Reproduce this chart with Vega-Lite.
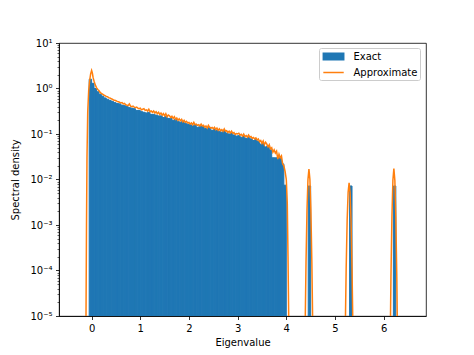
{
  "$schema": "https://vega.github.io/schema/vega-lite/v6.json",
  "autosize": {"type": "none"},
  "padding": {"left": 59, "top": 43, "right": 48, "bottom": 39},
  "width": 367,
  "height": 273,
  "background": "white",
  "config": {
    "view": {"stroke": "#000000", "strokeWidth": 0.8},
    "font": "DejaVu Sans",
    "axis": {
      "labelFont": "DejaVu Sans", "labelFontSize": 10, "labelColor": "#000000",
      "titleFont": "DejaVu Sans", "titleFontSize": 10, "titleFontWeight": "normal", "titleColor": "#000000",
      "domainColor": "#000000", "domainWidth": 0.8, "tickColor": "#000000", "tickWidth": 0.8,
      "tickSize": 3.5, "labelPadding": 3.5, "grid": false
    },
    "legend": {"labelFont": "DejaVu Sans", "labelFontSize": 10, "labelColor": "#000000"}
  },
  "datasets": {
    "exact": [
      {"lo": -0.05, "hi": 0.0, "density": 1.6},
      {"lo": 0.0, "hi": 0.05, "density": 1.3},
      {"lo": 0.05, "hi": 0.1, "density": 1.0},
      {"lo": 0.1, "hi": 0.15, "density": 0.85},
      {"lo": 0.15, "hi": 0.2, "density": 0.75},
      {"lo": 0.2, "hi": 0.25, "density": 0.68},
      {"lo": 0.25, "hi": 0.3, "density": 0.62},
      {"lo": 0.3, "hi": 0.35, "density": 0.58},
      {"lo": 0.35, "hi": 0.4, "density": 0.55},
      {"lo": 0.4, "hi": 0.45, "density": 0.52},
      {"lo": 0.45, "hi": 0.5, "density": 0.49},
      {"lo": 0.5, "hi": 0.55, "density": 0.47},
      {"lo": 0.55, "hi": 0.6, "density": 0.46},
      {"lo": 0.6, "hi": 0.65, "density": 0.43},
      {"lo": 0.65, "hi": 0.7, "density": 0.42},
      {"lo": 0.7, "hi": 0.75, "density": 0.4},
      {"lo": 0.75, "hi": 0.8, "density": 0.38},
      {"lo": 0.8, "hi": 0.85, "density": 0.37},
      {"lo": 0.85, "hi": 0.9, "density": 0.36},
      {"lo": 0.9, "hi": 0.95, "density": 0.33},
      {"lo": 0.95, "hi": 1.0, "density": 0.33},
      {"lo": 1.0, "hi": 1.05, "density": 0.31},
      {"lo": 1.05, "hi": 1.1, "density": 0.3},
      {"lo": 1.1, "hi": 1.15, "density": 0.29},
      {"lo": 1.15, "hi": 1.2, "density": 0.3},
      {"lo": 1.2, "hi": 1.25, "density": 0.27},
      {"lo": 1.25, "hi": 1.3, "density": 0.27},
      {"lo": 1.3, "hi": 1.35, "density": 0.26},
      {"lo": 1.35, "hi": 1.4, "density": 0.25},
      {"lo": 1.4, "hi": 1.45, "density": 0.25},
      {"lo": 1.45, "hi": 1.5, "density": 0.23},
      {"lo": 1.5, "hi": 1.55, "density": 0.24},
      {"lo": 1.55, "hi": 1.6, "density": 0.22},
      {"lo": 1.6, "hi": 1.65, "density": 0.22},
      {"lo": 1.65, "hi": 1.7, "density": 0.2},
      {"lo": 1.7, "hi": 1.75, "density": 0.21},
      {"lo": 1.75, "hi": 1.8, "density": 0.19},
      {"lo": 1.8, "hi": 1.85, "density": 0.18},
      {"lo": 1.85, "hi": 1.9, "density": 0.19},
      {"lo": 1.9, "hi": 1.95, "density": 0.17},
      {"lo": 1.95, "hi": 2.0, "density": 0.165},
      {"lo": 2.0, "hi": 2.05, "density": 0.16},
      {"lo": 2.05, "hi": 2.1, "density": 0.15},
      {"lo": 2.1, "hi": 2.15, "density": 0.16},
      {"lo": 2.15, "hi": 2.2, "density": 0.14},
      {"lo": 2.2, "hi": 2.25, "density": 0.145},
      {"lo": 2.25, "hi": 2.3, "density": 0.15},
      {"lo": 2.3, "hi": 2.35, "density": 0.135},
      {"lo": 2.35, "hi": 2.4, "density": 0.13},
      {"lo": 2.4, "hi": 2.45, "density": 0.14},
      {"lo": 2.45, "hi": 2.5, "density": 0.12},
      {"lo": 2.5, "hi": 2.55, "density": 0.125},
      {"lo": 2.55, "hi": 2.6, "density": 0.12},
      {"lo": 2.6, "hi": 2.65, "density": 0.115},
      {"lo": 2.65, "hi": 2.7, "density": 0.11},
      {"lo": 2.7, "hi": 2.75, "density": 0.12},
      {"lo": 2.75, "hi": 2.8, "density": 0.105},
      {"lo": 2.8, "hi": 2.85, "density": 0.1},
      {"lo": 2.85, "hi": 2.9, "density": 0.105},
      {"lo": 2.9, "hi": 2.95, "density": 0.095},
      {"lo": 2.95, "hi": 3.0, "density": 0.09},
      {"lo": 3.0, "hi": 3.05, "density": 0.092},
      {"lo": 3.05, "hi": 3.1, "density": 0.085},
      {"lo": 3.1, "hi": 3.15, "density": 0.088},
      {"lo": 3.15, "hi": 3.2, "density": 0.08},
      {"lo": 3.2, "hi": 3.25, "density": 0.085},
      {"lo": 3.25, "hi": 3.3, "density": 0.078},
      {"lo": 3.3, "hi": 3.35, "density": 0.072},
      {"lo": 3.35, "hi": 3.4, "density": 0.075},
      {"lo": 3.4, "hi": 3.45, "density": 0.068},
      {"lo": 3.45, "hi": 3.5, "density": 0.06},
      {"lo": 3.5, "hi": 3.55, "density": 0.062},
      {"lo": 3.55, "hi": 3.6, "density": 0.052},
      {"lo": 3.6, "hi": 3.65, "density": 0.055},
      {"lo": 3.65, "hi": 3.7, "density": 0.045},
      {"lo": 3.7, "hi": 3.75, "density": 0.03},
      {"lo": 3.75, "hi": 3.8, "density": 0.03},
      {"lo": 3.8, "hi": 3.85, "density": 0.03},
      {"lo": 3.85, "hi": 3.9, "density": 0.03},
      {"lo": 3.9, "hi": 3.95, "density": 0.022},
      {"lo": 3.95, "hi": 4.0, "density": 0.0075},
      {"lo": 4.45, "hi": 4.5, "density": 0.0072},
      {"lo": 5.3, "hi": 5.35, "density": 0.0072},
      {"lo": 6.2, "hi": 6.25, "density": 0.0072}
    ],
    "approx": [
      {"x": -0.14, "y": 1e-8}, {"x": -0.115, "y": 1e-5}, {"x": -0.105, "y": 0.001}, {"x": -0.095, "y": 0.03},
      {"x": -0.08, "y": 0.3}, {"x": -0.06, "y": 0.9}, {"x": -0.04, "y": 1.5}, {"x": -0.02, "y": 2.1},
      {"x": 0.0, "y": 2.5}, {"x": 0.015, "y": 2.2}, {"x": 0.03, "y": 1.75}, {"x": 0.05, "y": 1.45},
      {"x": 0.075, "y": 1.2}, {"x": 0.1, "y": 1.05}, {"x": 0.125, "y": 0.95}, {"x": 0.15, "y": 0.9},
      {"x": 0.175, "y": 0.82}, {"x": 0.2, "y": 0.78}, {"x": 0.225, "y": 0.75}, {"x": 0.25, "y": 0.72},
      {"x": 0.275, "y": 0.7}, {"x": 0.3, "y": 0.67}, {"x": 0.325, "y": 0.66}, {"x": 0.35, "y": 0.63},
      {"x": 0.375, "y": 0.62}, {"x": 0.4, "y": 0.6}, {"x": 0.425, "y": 0.58}, {"x": 0.45, "y": 0.56},
      {"x": 0.475, "y": 0.55}, {"x": 0.5, "y": 0.54}, {"x": 0.525, "y": 0.52}, {"x": 0.55, "y": 0.51},
      {"x": 0.575, "y": 0.5}, {"x": 0.6, "y": 0.48}, {"x": 0.625, "y": 0.49}, {"x": 0.65, "y": 0.46},
      {"x": 0.675, "y": 0.47}, {"x": 0.7, "y": 0.44}, {"x": 0.725, "y": 0.43}, {"x": 0.75, "y": 0.42},
      {"x": 0.775, "y": 0.46}, {"x": 0.8, "y": 0.41}, {"x": 0.825, "y": 0.4}, {"x": 0.85, "y": 0.41},
      {"x": 0.875, "y": 0.39}, {"x": 0.9, "y": 0.38}, {"x": 0.925, "y": 0.39}, {"x": 0.95, "y": 0.37},
      {"x": 0.975, "y": 0.36}, {"x": 1.0, "y": 0.37}, {"x": 1.025, "y": 0.34}, {"x": 1.05, "y": 0.35},
      {"x": 1.075, "y": 0.36}, {"x": 1.1, "y": 0.33}, {"x": 1.125, "y": 0.34}, {"x": 1.15, "y": 0.32},
      {"x": 1.175, "y": 0.35}, {"x": 1.2, "y": 0.31}, {"x": 1.225, "y": 0.32}, {"x": 1.25, "y": 0.3},
      {"x": 1.275, "y": 0.32}, {"x": 1.3, "y": 0.29}, {"x": 1.325, "y": 0.31}, {"x": 1.35, "y": 0.28},
      {"x": 1.375, "y": 0.3}, {"x": 1.4, "y": 0.27}, {"x": 1.425, "y": 0.29}, {"x": 1.45, "y": 0.26},
      {"x": 1.475, "y": 0.28}, {"x": 1.5, "y": 0.25}, {"x": 1.525, "y": 0.28}, {"x": 1.55, "y": 0.24},
      {"x": 1.575, "y": 0.26}, {"x": 1.6, "y": 0.25}, {"x": 1.625, "y": 0.23}, {"x": 1.65, "y": 0.245},
      {"x": 1.675, "y": 0.22}, {"x": 1.7, "y": 0.24}, {"x": 1.725, "y": 0.21}, {"x": 1.75, "y": 0.225},
      {"x": 1.775, "y": 0.2}, {"x": 1.8, "y": 0.215}, {"x": 1.825, "y": 0.195}, {"x": 1.85, "y": 0.21},
      {"x": 1.875, "y": 0.185}, {"x": 1.9, "y": 0.2}, {"x": 1.925, "y": 0.18}, {"x": 1.95, "y": 0.19},
      {"x": 1.975, "y": 0.175}, {"x": 2.0, "y": 0.18}, {"x": 2.025, "y": 0.165}, {"x": 2.05, "y": 0.175},
      {"x": 2.075, "y": 0.16}, {"x": 2.1, "y": 0.18}, {"x": 2.125, "y": 0.16}, {"x": 2.15, "y": 0.165},
      {"x": 2.175, "y": 0.155}, {"x": 2.2, "y": 0.16}, {"x": 2.225, "y": 0.15}, {"x": 2.25, "y": 0.165},
      {"x": 2.275, "y": 0.15}, {"x": 2.3, "y": 0.155}, {"x": 2.325, "y": 0.14}, {"x": 2.35, "y": 0.15},
      {"x": 2.375, "y": 0.135}, {"x": 2.4, "y": 0.155}, {"x": 2.425, "y": 0.14}, {"x": 2.45, "y": 0.135},
      {"x": 2.475, "y": 0.14}, {"x": 2.5, "y": 0.13}, {"x": 2.525, "y": 0.14}, {"x": 2.55, "y": 0.125},
      {"x": 2.575, "y": 0.135}, {"x": 2.6, "y": 0.12}, {"x": 2.625, "y": 0.13}, {"x": 2.65, "y": 0.118},
      {"x": 2.675, "y": 0.125}, {"x": 2.7, "y": 0.115}, {"x": 2.725, "y": 0.13}, {"x": 2.75, "y": 0.115},
      {"x": 2.775, "y": 0.118}, {"x": 2.8, "y": 0.108}, {"x": 2.825, "y": 0.115}, {"x": 2.85, "y": 0.105},
      {"x": 2.875, "y": 0.115}, {"x": 2.9, "y": 0.103}, {"x": 2.925, "y": 0.108}, {"x": 2.95, "y": 0.098},
      {"x": 2.975, "y": 0.102}, {"x": 3.0, "y": 0.1}, {"x": 3.025, "y": 0.104}, {"x": 3.05, "y": 0.094},
      {"x": 3.075, "y": 0.098}, {"x": 3.1, "y": 0.09}, {"x": 3.125, "y": 0.1}, {"x": 3.15, "y": 0.088},
      {"x": 3.175, "y": 0.092}, {"x": 3.2, "y": 0.085}, {"x": 3.225, "y": 0.095}, {"x": 3.25, "y": 0.085},
      {"x": 3.275, "y": 0.088}, {"x": 3.3, "y": 0.08}, {"x": 3.325, "y": 0.084}, {"x": 3.35, "y": 0.078},
      {"x": 3.375, "y": 0.082}, {"x": 3.4, "y": 0.074}, {"x": 3.425, "y": 0.078}, {"x": 3.45, "y": 0.068},
      {"x": 3.475, "y": 0.072}, {"x": 3.5, "y": 0.062}, {"x": 3.525, "y": 0.07}, {"x": 3.55, "y": 0.058},
      {"x": 3.575, "y": 0.066}, {"x": 3.6, "y": 0.06}, {"x": 3.625, "y": 0.052}, {"x": 3.65, "y": 0.058},
      {"x": 3.675, "y": 0.047}, {"x": 3.7, "y": 0.05}, {"x": 3.725, "y": 0.04}, {"x": 3.75, "y": 0.045},
      {"x": 3.775, "y": 0.038}, {"x": 3.8, "y": 0.042}, {"x": 3.825, "y": 0.028}, {"x": 3.85, "y": 0.036},
      {"x": 3.875, "y": 0.03}, {"x": 3.9, "y": 0.033}, {"x": 3.925, "y": 0.022}, {"x": 3.95, "y": 0.02},
      {"x": 3.975, "y": 0.015}, {"x": 4.0, "y": 0.01}, {"x": 4.02, "y": 0.003}, {"x": 4.035, "y": 0.0002},
      {"x": 4.05, "y": 8e-6}, {"x": 4.07, "y": 1e-8},
      {"x": 4.365, "y": 3.4e-8}, {"x": 4.385, "y": 3.9e-6}, {"x": 4.405, "y": 0.00015}, {"x": 4.425, "y": 0.0021},
      {"x": 4.445, "y": 0.01}, {"x": 4.465, "y": 0.017}, {"x": 4.485, "y": 0.01}, {"x": 4.505, "y": 0.0021},
      {"x": 4.525, "y": 0.00015}, {"x": 4.545, "y": 3.9e-6}, {"x": 4.565, "y": 3.4e-8},
      {"x": 5.19, "y": 5.4e-8}, {"x": 5.21, "y": 4e-6}, {"x": 5.23, "y": 0.00011}, {"x": 5.25, "y": 0.00126},
      {"x": 5.27, "y": 0.0052}, {"x": 5.29, "y": 0.0085}, {"x": 5.31, "y": 0.0052}, {"x": 5.33, "y": 0.00126},
      {"x": 5.35, "y": 0.00011}, {"x": 5.37, "y": 4e-6}, {"x": 5.39, "y": 5.4e-8},
      {"x": 6.11, "y": 4.4e-9}, {"x": 6.13, "y": 1e-6}, {"x": 6.15, "y": 7.3e-5}, {"x": 6.17, "y": 0.0015},
      {"x": 6.19, "y": 0.0096}, {"x": 6.21, "y": 0.0175}, {"x": 6.23, "y": 0.0096}, {"x": 6.25, "y": 0.0015},
      {"x": 6.27, "y": 7.3e-5}, {"x": 6.29, "y": 1e-6}, {"x": 6.31, "y": 4.4e-9}
    ]
  },
  "layer": [
    {
      "data": {"name": "exact"},
      "mark": {"type": "rect", "clip": true, "stroke": "#1f77b4", "strokeWidth": 1},
      "encoding": {
        "x": {
          "field": "lo", "type": "quantitative",
          "scale": {"domain": [-0.67, 6.87], "nice": false, "zero": false},
          "axis": {"title": "Eigenvalue", "values": [0, 1, 2, 3, 4, 5, 6], "format": "d", "titlePadding": 4, "labelFlush": false}
        },
        "x2": {"field": "hi"},
        "y": {
          "field": "density", "type": "quantitative",
          "scale": {"type": "log", "domain": [0.00001, 10], "nice": false},
          "axis": {
            "title": "Spectral density",
            "titlePadding": 9,
            "labelOverlap": false,
            "labelFlush": false,
            "values": [0.00001, 0.00002, 0.00003, 0.00004, 0.00005, 0.00006, 0.00007, 0.00008, 0.00009,
                       0.0001, 0.0002, 0.0003, 0.0004, 0.0005, 0.0006, 0.0007, 0.0008, 0.0009,
                       0.001, 0.002, 0.003, 0.004, 0.005, 0.006, 0.007, 0.008, 0.009,
                       0.01, 0.02, 0.03, 0.04, 0.05, 0.06, 0.07, 0.08, 0.09,
                       0.1, 0.2, 0.3, 0.4, 0.5, 0.6, 0.7, 0.8, 0.9,
                       1, 2, 3, 4, 5, 6, 7, 8, 9, 10],
            "labelExpr": "abs(log(datum.value)/LN10 - round(log(datum.value)/LN10)) < 1e-6 ? '10' + (round(log(datum.value)/LN10) < 0 ? '⁻' : '') + ['⁰','¹','²','³','⁴','⁵','⁶'][abs(round(log(datum.value)/LN10))] : ''",
            "tickSize": {"condition": {"test": "abs(log(datum.value)/LN10 - round(log(datum.value)/LN10)) < 1e-6", "value": 3.5}, "value": 2},
            "tickWidth": {"condition": {"test": "abs(log(datum.value)/LN10 - round(log(datum.value)/LN10)) < 1e-6", "value": 0.8}, "value": 0.6}
          }
        },
        "y2": {"datum": 0.00001},
        "color": {
          "datum": "Exact",
          "scale": {"domain": ["Exact", "Approximate"], "range": ["#1f77b4", "#ff7f0e"]},
          "legend": {
            "title": null,
            "orient": "none",
            "legendX": 260,
            "legendY": 5,
            "padding": 2,
            "rowPadding": 3,
            "symbolSize": 121,
            "labelOffset": 19.5,
            "fillColor": "rgba(255,255,255,0.8)",
            "strokeColor": "#cccccc",
            "cornerRadius": 2,
            "encode": {
              "symbols": {
                "update": {
                  "shape": {"signal": "datum.value === 'Exact' ? 'M-0.76,-0.6H2.95V0.6H-0.76Z' : 'M-0.76,0H2.95'"},
                  "fill": {"signal": "datum.value === 'Exact' ? '#1f77b4' : 'transparent'"},
                  "stroke": {"signal": "datum.value === 'Exact' ? 'transparent' : '#ff7f0e'"},
                  "strokeWidth": {"value": 1.5},
                  "opacity": {"value": 1},
                  "fillOpacity": {"value": 1},
                  "strokeOpacity": {"value": 1}
                }
              }
            }
          }
        }
      }
    },
    {
      "data": {"name": "approx"},
      "mark": {"type": "line", "clip": true, "strokeWidth": 1.5, "interpolate": "linear"},
      "encoding": {
        "x": {"field": "x", "type": "quantitative", "title": "Eigenvalue"},
        "y": {"field": "y", "type": "quantitative", "title": "Spectral density"},
        "color": {
          "datum": "Approximate",
          "legend": {
            "title": null,
            "orient": "none",
            "legendX": 260,
            "legendY": 5,
            "padding": 2,
            "rowPadding": 3,
            "symbolSize": 121,
            "labelOffset": 19.5,
            "fillColor": "rgba(255,255,255,0.8)",
            "strokeColor": "#cccccc",
            "cornerRadius": 2,
            "encode": {
              "symbols": {
                "update": {
                  "shape": {"signal": "datum.value === 'Exact' ? 'M-0.76,-0.6H2.95V0.6H-0.76Z' : 'M-0.76,0H2.95'"},
                  "fill": {"signal": "datum.value === 'Exact' ? '#1f77b4' : 'transparent'"},
                  "stroke": {"signal": "datum.value === 'Exact' ? 'transparent' : '#ff7f0e'"},
                  "strokeWidth": {"value": 1.5},
                  "opacity": {"value": 1},
                  "fillOpacity": {"value": 1},
                  "strokeOpacity": {"value": 1}
                }
              }
            }
          }
        }
      }
    }
  ]
}
